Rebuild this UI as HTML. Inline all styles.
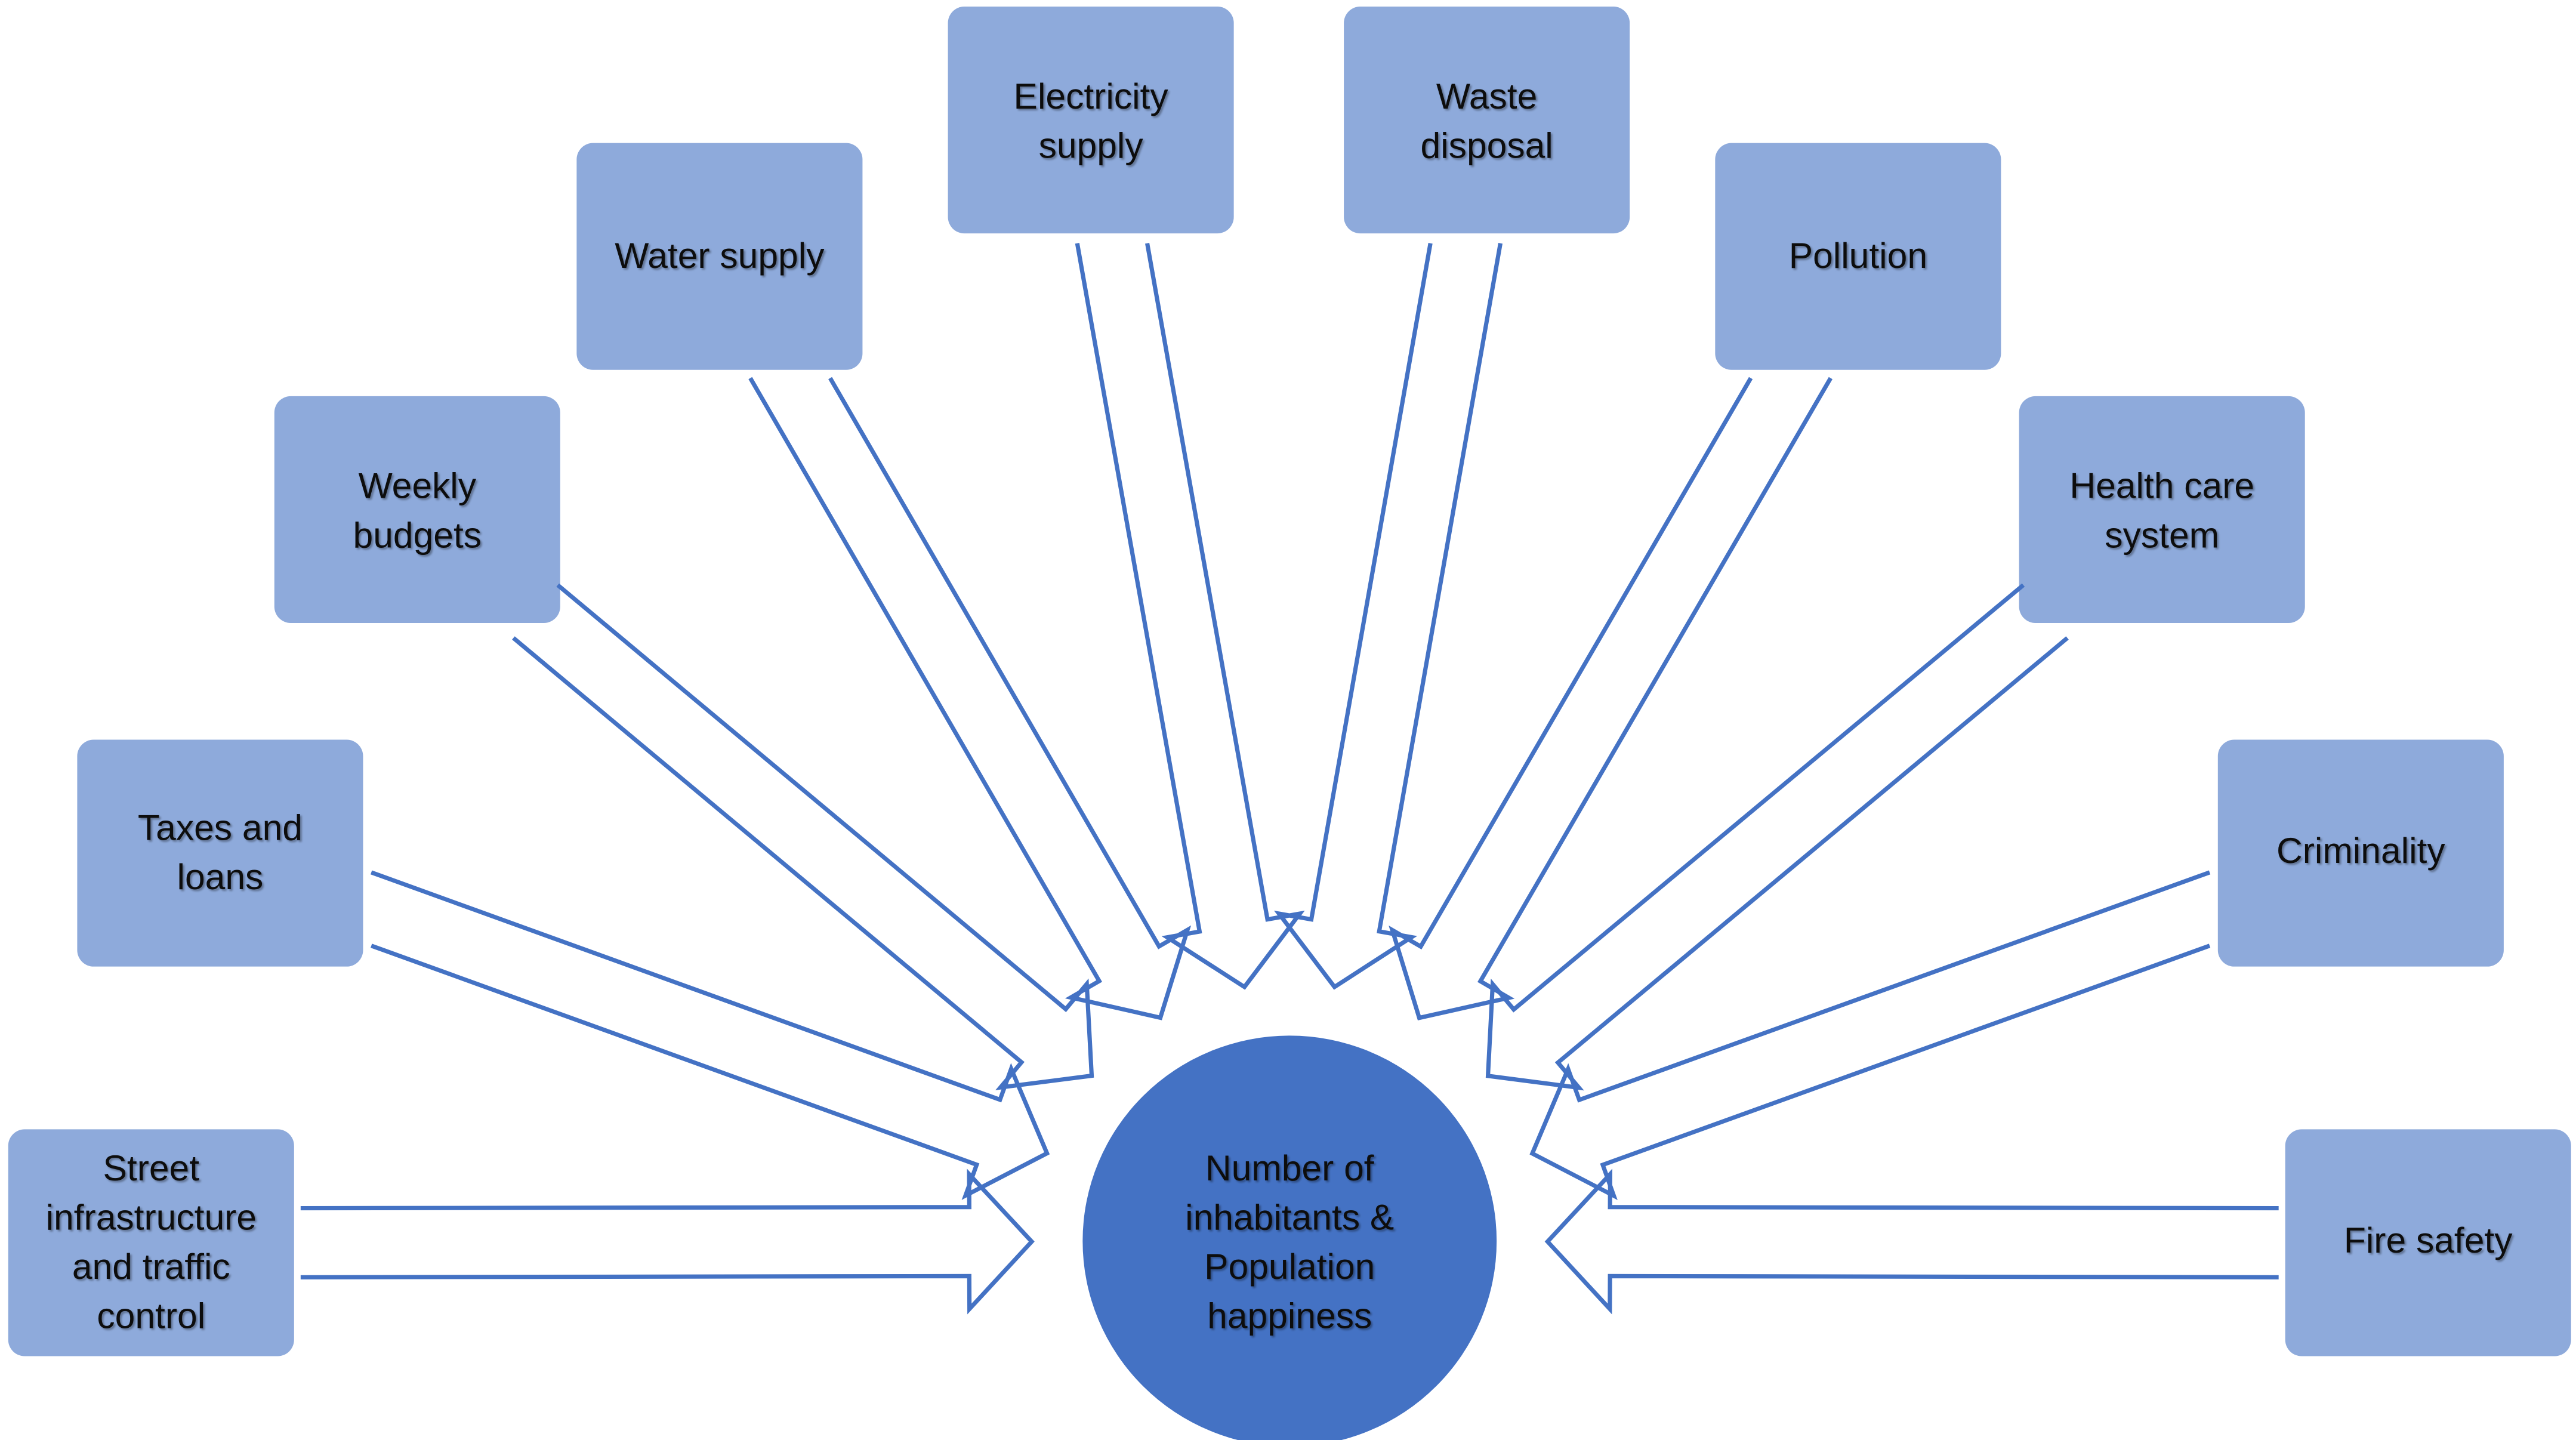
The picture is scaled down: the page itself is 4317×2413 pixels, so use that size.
<!DOCTYPE html>
<html><head><meta charset="utf-8"><style>
html,body{margin:0;padding:0;background:#fff;}
svg{display:block}
text{font-family:"Liberation Sans Narrow","Liberation Sans",sans-serif;font-size:22px;fill:#111;text-anchor:middle}
</style></head><body>
<svg id="s" width="4317" height="2413" viewBox="0 0 1568 876" preserveAspectRatio="none" xmlns="http://www.w3.org/2000/svg">
<defs><filter id="sh"><feDropShadow dx="1" dy="1" stdDeviation="0.6" flood-color="#000" flood-opacity="0.35"/></filter></defs>
<g fill="#8eaadb">
<rect x="5" y="687" width="174" height="138" rx="10"/>
<rect x="47" y="450" width="174" height="138" rx="10"/>
<rect x="167" y="241" width="174" height="138" rx="10"/>
<rect x="351" y="87" width="174" height="138" rx="10"/>
<rect x="577" y="4" width="174" height="138" rx="10"/>
<rect x="818" y="4" width="174" height="138" rx="10"/>
<rect x="1044" y="87" width="174" height="138" rx="10"/>
<rect x="1229" y="241" width="174" height="138" rx="10"/>
<rect x="1350" y="450" width="174" height="138" rx="10"/>
<rect x="1391" y="687" width="174" height="138" rx="10"/>
</g>
<ellipse cx="785" cy="755" rx="126" ry="125" fill="#4472c4"/>
<g id="arrows" fill="none" stroke="#4472c4" stroke-width="2.6" stroke-linejoin="miter"></g>
<g filter="url(#sh)">
<text x="92" y="718">Street</text><text x="92" y="748">infrastructure</text><text x="92" y="778">and traffic</text><text x="92" y="808">control</text>
<text x="134" y="511">Taxes and</text><text x="134" y="541">loans</text>
<text x="254" y="303">Weekly</text><text x="254" y="333">budgets</text>
<text x="438" y="163">Water supply</text>
<text x="664" y="66">Electricity</text><text x="664" y="96">supply</text>
<text x="905" y="66">Waste</text><text x="905" y="96">disposal</text>
<text x="1131" y="163">Pollution</text>
<text x="1316" y="303">Health care</text><text x="1316" y="333">system</text>
<text x="1437" y="525">Criminality</text>
<text x="1478" y="762">Fire safety</text>
<text x="785" y="718">Number of</text><text x="785" y="748">inhabitants &amp;</text><text x="785" y="778">Population</text><text x="785" y="808">happiness</text>
</g>
</svg>
<script>
var cx=785,cy=755,R=157,sw=21,hl=38,hw=41;
var starts=[[183,756,'x',183],[226,553,'x',226],[326,372],[481,230,'y',230],[677,148,'y',148],[892,148,'y',148],[1090,230,'y',230],[1245,372],[1345,553,'x',1345],[1387,756,'x',1387]];
var g=document.getElementById('arrows'),out='';
starts.forEach(function(p){
 var dx=p[0]-cx,dy=p[1]-cy,L=Math.hypot(dx,dy),ux=dx/L,uy=dy/L;
 var tx=cx+ux*R,ty=cy+uy*R;
 var bx=tx+ux*hl,by=ty+uy*hl;
 var nx=-uy,ny=ux;
 function st(s){
  var ox=bx+nx*sw*s,oy=by+ny*sw*s;
  if(p[2]==='x'){var t=(p[3]-ox)/ux;return [p[3],oy+uy*t];}
  if(p[2]==='y'){var t=(p[3]-oy)/uy;return [ox+ux*t,p[3]];}
  return [p[0]+nx*sw*s,p[1]+ny*sw*s];
 }
 var pts=[st(1),[bx+nx*sw,by+ny*sw],[bx+nx*hw,by+ny*hw],[tx,ty],[bx-nx*hw,by-ny*hw],[bx-nx*sw,by-ny*sw],st(-1)];
 out+='<polyline points="'+pts.map(function(q){return q[0].toFixed(1)+','+q[1].toFixed(1)}).join(' ')+'"/>';
});
g.innerHTML=out;
</script>
</body></html>
